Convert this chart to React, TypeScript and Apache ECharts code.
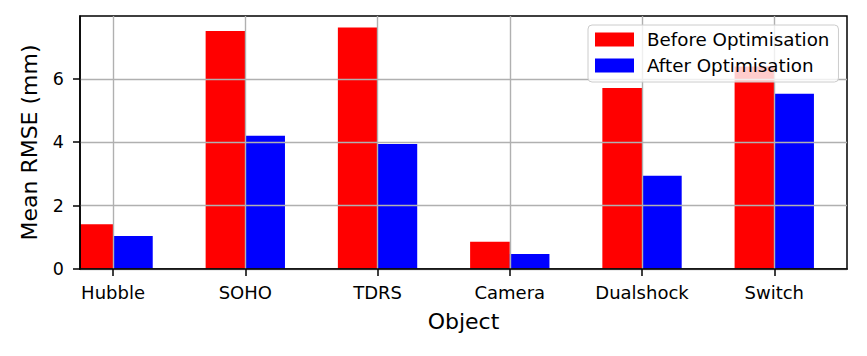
import React, { useEffect, useRef } from "react";
import * as echarts from "echarts";

const categories = ["Hubble", "SOHO", "TDRS", "Camera", "Dualshock", "Switch"];
const beforeValues = [1.41, 7.51, 7.62, 0.86, 5.71, 6.39];
const afterValues = [1.04, 4.2, 3.94, 0.47, 2.94, 5.53];
const yTicks = [0, 2, 4, 6];
const xTicks = [0, 1, 2, 3, 4, 5];
const BAR_W = 0.3;

const FONT = "DejaVu Sans";

function makeRender(side: number) {
  return (params: any, api: any) => {
    const x = api.value(0);
    const y = api.value(1);
    const left = side < 0 ? x - BAR_W : x;
    const right = side < 0 ? x : x + BAR_W;
    const pTop = api.coord([left, y]);
    const pBot = api.coord([right, 0]);
    const cs = params.coordSys;
    const rect = echarts.graphic.clipRectByRect(
      { x: pTop[0], y: pTop[1], width: pBot[0] - pTop[0], height: pBot[1] - pTop[1] },
      { x: cs.x, y: cs.y, width: cs.width, height: cs.height }
    );
    if (!rect) return null;
    return { type: "rect", shape: rect, style: api.style() };
  };
}

export default function App() {
  const ref = useRef<HTMLDivElement>(null);
  useEffect(() => {
    if (!ref.current) return;
    const chart = echarts.init(ref.current, null, { renderer: "svg" });
    const gridColor = "#b0b0b0";
    chart.setOption({
      animation: false,
      backgroundColor: "#ffffff",
      textStyle: { fontFamily: FONT },
      grid: {
        left: 80,
        right: 20,
        top: 16,
        bottom: 87,
        show: true,
        borderColor: "#000",
        borderWidth: 1.5,
        backgroundColor: "transparent",
        z: 3,
      },
      legend: {
        orient: "vertical",
        left: 588,
        top: 25,
        padding: [5.5, 9, 7.5, 7],
        itemWidth: 39,
        itemHeight: 14,
        itemGap: 8,
        icon: "rect",
        backgroundColor: "rgba(255,255,255,0.8)",
        borderColor: "#cccccc",
        borderWidth: 1,
        borderRadius: 4,
        textStyle: {
          fontFamily: FONT,
          fontSize: 18.3,
          color: "#000",
          lineHeight: 18,
          padding: [0, 0, 0, 8],
        },
        data: ["Before Optimisation", "After Optimisation"],
      },
      xAxis: {
        type: "value",
        min: -0.25,
        max: 5.55,
        z: 3,
        name: "Object",
        nameLocation: "middle",
        nameGap: 41,
        nameTextStyle: { fontFamily: FONT, fontSize: 22, color: "#000" },
        axisLine: { show: true, onZero: false, lineStyle: { color: "#000", width: 1.5 } },
        axisTick: {
          show: true,
          length: 7,
          customValues: xTicks,
          lineStyle: { color: "#000", width: 1.5 },
        },
        axisLabel: {
          customValues: xTicks,
          margin: 14,
          fontFamily: FONT,
          fontSize: 18,
          color: "#000",
          formatter: (v: number) => categories[Math.round(v)] ?? "",
        },
        splitLine: { show: true, lineStyle: { color: gridColor, width: 1.4 } },
      },
      yAxis: {
        type: "value",
        min: 0,
        max: 7.98,
        z: 3,
        name: "Mean RMSE (mm)",
        nameLocation: "middle",
        nameGap: 40,
        nameTextStyle: { fontFamily: FONT, fontSize: 22, color: "#000" },
        axisLine: { show: true, onZero: false, lineStyle: { color: "#000", width: 1.5 } },
        axisTick: {
          show: true,
          length: 7,
          customValues: yTicks,
          lineStyle: { color: "#000", width: 1.5 },
        },
        axisLabel: {
          customValues: yTicks,
          margin: 16,
          fontFamily: FONT,
          fontSize: 17.5,
          color: "#000",
        },
        splitLine: { show: true, lineStyle: { color: gridColor, width: 1.4 } },
      },
      series: [
        {
          name: "Before Optimisation",
          type: "custom",
          renderItem: makeRender(-1),
          encode: { x: 0, y: 1 },
          itemStyle: { color: "#ff0000" },
          data: beforeValues.map((v, i) => [i, v]),
        },
        {
          name: "After Optimisation",
          type: "custom",
          renderItem: makeRender(1),
          encode: { x: 0, y: 1 },
          itemStyle: { color: "#0000ff" },
          data: afterValues.map((v, i) => [i, v]),
        },
      ],
    });
    return () => chart.dispose();
  }, []);
  return (
    <div
      ref={ref}
      style={{ position: "fixed", left: 0, top: 0, width: 867, height: 356 }}
    />
  );
}
